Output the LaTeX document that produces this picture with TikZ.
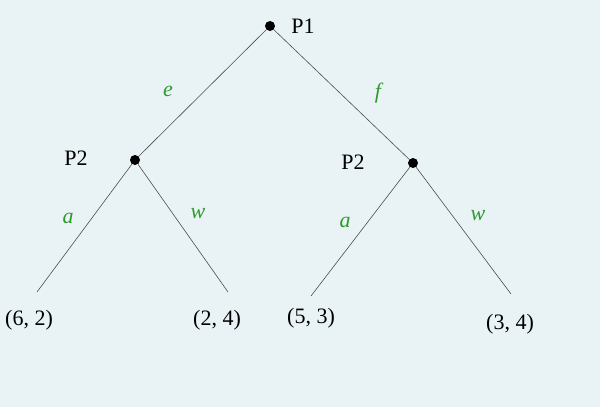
\documentclass[tikz,border=0pt]{standalone}
\usepackage{fontspec}
\setmainfont{Liberation Serif}
\definecolor{bg}{HTML}{E9F3F5}
\definecolor{lab}{HTML}{2E9A2E}
\begin{document}
\begin{tikzpicture}[x=1pt,y=-1pt,
  dot/.style={circle,fill=black,inner sep=0pt,minimum size=10pt},
  txt/.style={font=\fontsize{22}{24}\selectfont},
  elab/.style={font=\fontsize{22}{24}\selectfont\itshape,text=lab},
  edge/.style={draw=black!70,line width=0.6pt}]
\fill[bg] (0,0) rectangle (600,407);
\useasboundingbox (0,0) rectangle (600,407);
\node[dot] (p1) at (270,26) {};
\node[dot] (l) at (135,160) {};
\node[dot] (r) at (413,163) {};
\coordinate (ll) at (37,292);
\coordinate (lr) at (228,292);
\coordinate (rl) at (311,296);
\coordinate (rr) at (511,294);
\node[txt] (tp1) at (303,26) {P1};
\node[txt] (tl) at (76,158) {P2};
\node[txt] (tr) at (353,162) {P2};
\node[txt] (tll) at (29,320) {(6, 2)};
\node[txt] (tlr) at (217,320) {(2, 4)};
\node[txt] (trl) at (311,318) {(5, 3)};
\node[txt] (trr) at (510,324) {(3, 4)};
\draw[edge] (p1) -- (l);
\draw[edge] (p1) -- (r);
\draw[edge] (l) -- (ll);
\draw[edge] (l) -- (lr);
\draw[edge] (r) -- (rl);
\draw[edge] (r) -- (rr);
\node[elab] (e) at (168,91) {e};
\node[elab] (f) at (378,93) {f};
\node[elab] (a1) at (68,218) {a};
\node[elab] (w1) at (198,214) {w};
\node[elab] (a2) at (345,222) {a};
\node[elab] (w2) at (478,216) {w};
\end{tikzpicture}
\end{document}
